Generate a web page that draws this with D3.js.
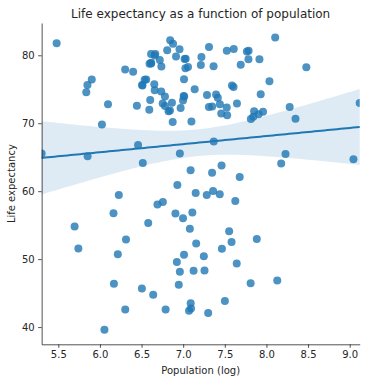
<!DOCTYPE html>
<html>
<head>
<meta charset="utf-8">
<script src="https://cdn.jsdelivr.net/npm/d3@7"></script>
<style>
  html, body { margin: 0; padding: 0; background: #fff; }
  svg { display: block; }
  text { font-family: "DejaVu Sans", sans-serif; fill: #262626; }
</style>
</head>
<body>
<svg id="chart" width="366" height="382"></svg>
<script>
// log10(population), gapminder 2007
const logPop = [
  7.501, 6.556, 7.523, 7.094, 7.605, 7.310, 6.914, 5.850, 8.177, 7.017,
  6.907, 6.960, 6.658, 6.215, 8.279, 6.865, 7.156, 6.924, 7.150, 7.248,
  7.524, 6.640, 7.010, 7.212, 9.120, 7.646, 5.852, 7.810, 6.580, 6.616,
  7.256, 6.653, 7.058, 7.010, 6.738, 5.696, 6.969, 7.138, 7.905, 6.841,
  5.741, 6.691, 7.884, 6.719, 7.786, 6.163, 6.227, 7.916, 7.359, 7.030,
  7.099, 6.998, 6.168, 6.930, 6.874, 6.844, 6.998, 5.480, 9.045, 8.349,
  7.842, 7.439, 6.614, 6.808, 7.765, 6.444, 8.105, 6.782, 7.552, 7.367,
  7.691, 6.399, 6.593, 6.304, 6.504, 6.781, 7.283, 7.125, 7.395, 7.080,
  6.515, 6.097, 8.036, 6.458, 5.836, 7.528, 7.300, 7.679, 6.313, 7.461,
  7.219, 6.614, 6.754, 7.110, 8.130, 6.665, 6.506, 8.229, 6.511, 6.824,
  7.457, 7.959, 7.586, 7.027, 6.596, 5.902, 7.348, 6.947, 5.300, 7.441,
  7.089, 7.006, 6.789, 6.658, 6.736, 6.303, 6.960, 7.643, 7.607, 7.309,
  7.626, 6.054, 6.956, 6.878, 7.286, 7.365, 7.581, 7.813, 6.756, 6.024,
  7.012, 7.852, 7.465, 7.784, 8.479, 6.537, 7.416, 7.931, 6.604, 7.347,
  7.070, 7.090
];
const lifeExp = [
  43.828, 76.423, 72.301, 42.731, 75.320, 81.235, 79.829, 75.635, 64.062, 79.441,
  56.728, 65.554, 74.852, 50.728, 72.390, 73.005, 52.295, 49.580, 59.723, 50.430,
  80.653, 44.741, 50.651, 78.553, 72.961, 72.889, 65.152, 46.462, 55.322, 78.782,
  48.328, 75.748, 78.273, 76.486, 78.332, 54.791, 72.235, 74.994, 71.338, 71.878,
  51.579, 58.040, 52.947, 79.313, 80.657, 56.735, 59.448, 79.406, 60.022, 79.483,
  70.259, 56.007, 46.388, 60.916, 70.198, 82.208, 73.338, 81.757, 64.698, 70.650,
  70.964, 59.545, 78.885, 80.745, 80.546, 72.567, 82.603, 72.535, 54.110, 67.297,
  78.623, 77.588, 71.993, 42.592, 45.678, 73.952, 59.443, 48.303, 74.241, 54.467,
  64.164, 72.801, 76.195, 66.803, 74.543, 71.164, 42.082, 62.069, 52.906, 63.785,
  79.762, 80.204, 72.899, 56.867, 46.859, 80.196, 75.640, 65.483, 75.537, 71.752,
  71.421, 71.688, 75.563, 78.098, 78.746, 76.442, 72.476, 46.242, 65.528, 72.777,
  63.062, 74.002, 42.568, 79.972, 74.663, 77.926, 48.159, 49.339, 80.941, 72.396,
  58.556, 39.613, 80.884, 81.701, 74.143, 78.400, 52.517, 70.616, 58.420, 69.819,
  73.923, 71.777, 51.542, 79.425, 78.242, 76.384, 73.747, 74.249, 73.422, 62.698,
  42.384, 43.487
];
const xTicks = [5.5, 6.0, 6.5, 7.0, 7.5, 8.0, 8.5, 9.0];
const yTicks = [40, 50, 60, 70, 80];
const titleText = "Life expectancy as a function of population";
const xLabel = "Population (log)";
const yLabel = "Life expectancy";

const color = "#1f77b4";
const svg = d3.select("#chart");

const xMin = d3.min(logPop), xMax = d3.max(logPop);
const yMin = d3.min(lifeExp), yMax = d3.max(lifeExp);
const yPad = (yMax - yMin) * 0.05;

// pixel positions: 5.5 -> 58.3, 9.0 -> 349.7
const pxPerUnit = (349.7 - 58.3) / 3.5;
const x = d3.scaleLinear()
  .domain([xMin, xMax])
  .range([58.3 + (xMin - 5.5) * pxPerUnit, 58.3 + (xMax - 5.5) * pxPerUnit]);
const y = d3.scaleLinear()
  .domain([yMin - yPad, yMax + yPad])
  .range([344.3, 23]);

const [x0, x1] = x.range();
const [yb, yt] = y.range();

// OLS regression with robust (sandwich) standard errors, approximating
// the pairs-bootstrap confidence band
const n = logPop.length;
const mx = d3.mean(logPop), my = d3.mean(lifeExp);
let sxx = 0, sxy = 0;
for (let i = 0; i < n; i++) {
  sxx += (logPop[i] - mx) ** 2;
  sxy += (logPop[i] - mx) * (lifeExp[i] - my);
}
const b = sxy / sxx, a = my - b * mx;
// X'X inverse
let s0 = n, s1 = 0, s2 = 0;
for (let i = 0; i < n; i++) { s1 += logPop[i]; s2 += logPop[i] ** 2; }
const det = s0 * s2 - s1 * s1;
const inv = [[s2 / det, -s1 / det], [-s1 / det, s0 / det]];
// meat
let m00 = 0, m01 = 0, m11 = 0;
for (let i = 0; i < n; i++) {
  const e2 = (lifeExp[i] - (a + b * logPop[i])) ** 2;
  m00 += e2; m01 += e2 * logPop[i]; m11 += e2 * logPop[i] ** 2;
}
const scale = n / (n - 2);
const M = [[m00 * scale, m01 * scale], [m01 * scale, m11 * scale]];
const mul = (P, Q) => [
  [P[0][0] * Q[0][0] + P[0][1] * Q[1][0], P[0][0] * Q[0][1] + P[0][1] * Q[1][1]],
  [P[1][0] * Q[0][0] + P[1][1] * Q[1][0], P[1][0] * Q[0][1] + P[1][1] * Q[1][1]]
];
const V = mul(mul(inv, M), inv);
const zcrit = 1.96;
const grid = d3.range(100).map(i => xMin + (xMax - xMin) * i / 99);
const band = grid.map(g => {
  const yh = a + b * g;
  const se = Math.sqrt(V[0][0] + 2 * g * V[0][1] + g * g * V[1][1]);
  return { x: g, y: yh, lo: yh - zcrit * se, hi: yh + zcrit * se };
});

const plot = svg.append("g");
svg.append("clipPath").attr("id", "clip")
  .append("rect").attr("x", x0).attr("y", yt).attr("width", x1 - x0).attr("height", yb - yt);

// points
plot.append("g").attr("clip-path", "url(#clip)")
  .selectAll("circle").data(logPop.map((v, i) => [v, lifeExp[i]]))
  .join("circle")
  .attr("cx", d => x(d[0]))
  .attr("cy", d => y(d[1]))
  .attr("r", 4)
  .attr("fill", color)
  .attr("fill-opacity", 0.8);

// CI band
plot.append("path")
  .datum(band)
  .attr("d", d3.area().x(d => x(d.x)).y0(d => y(d.lo)).y1(d => y(d.hi)))
  .attr("fill", color)
  .attr("fill-opacity", 0.15);

// regression line
plot.append("path")
  .datum(band)
  .attr("d", d3.line().x(d => x(d.x)).y(d => y(d.y)))
  .attr("fill", "none")
  .attr("stroke", color)
  .attr("stroke-width", 2);

// axes
const xAxis = svg.append("g")
  .attr("transform", `translate(0,${yb})`)
  .call(d3.axisBottom(x).tickValues(xTicks).tickFormat(d3.format(".1f")).tickSizeInner(3.5).tickSizeOuter(0).tickPadding(3));
const yAxis = svg.append("g")
  .attr("transform", `translate(${x0},0)`)
  .call(d3.axisLeft(y).tickValues(yTicks).tickFormat(d3.format("d")).tickSizeInner(3.5).tickSizeOuter(0).tickPadding(3.5));

[xAxis, yAxis].forEach(g => {
  g.selectAll(".domain").attr("stroke", "#262626").attr("stroke-width", 0.8);
  g.selectAll(".tick line").attr("stroke", "#262626").attr("stroke-width", 0.8);
  g.selectAll(".tick text").attr("font-size", 10).attr("font-family", "DejaVu Sans").attr("fill", "#262626");
});

// title and labels
svg.append("text")
  .attr("x", (x0 + x1) / 2).attr("y", 17.5)
  .attr("text-anchor", "middle")
  .attr("font-size", 12)
  .text(titleText);
svg.append("text")
  .attr("x", (x0 + x1) / 2).attr("y", 374)
  .attr("text-anchor", "middle")
  .attr("font-size", 10)
  .text(xLabel);
svg.append("text")
  .attr("transform", `translate(15,${(yb + yt) / 2}) rotate(-90)`)
  .attr("text-anchor", "middle")
  .attr("font-size", 10)
  .text(yLabel);
</script>
</body>
</html>
